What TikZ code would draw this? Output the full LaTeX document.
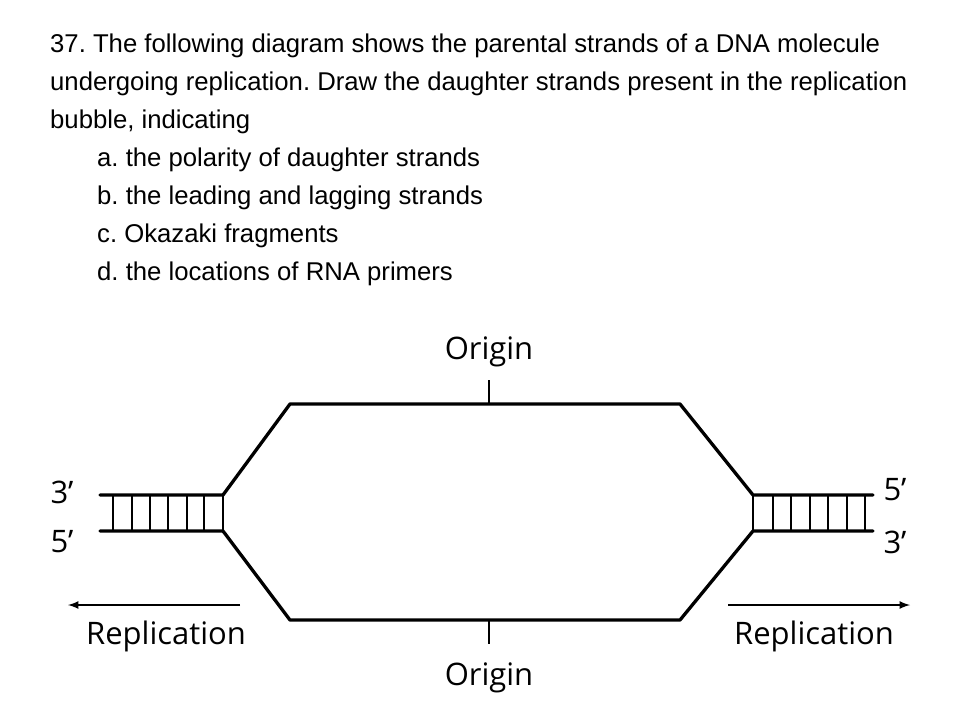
\documentclass[tikz,border=0pt]{standalone}
\usepackage{fontspec}
\setmainfont{Liberation Sans}
\newfontfamily\labelfont{Open Sans}
\usetikzlibrary{positioning}
\frenchspacing
\tikzset{
  strand/.style={line width=3.3pt, line cap=round, line join=round},
  rung/.style={line width=2.5pt},
  qtext/.style={anchor=base west, inner sep=0pt, font=\fontsize{25.7}{30}\selectfont},
  lbl/.style={inner sep=0pt, font=\labelfont\fontsize{31}{36}\selectfont},
}
\begin{document}
\begin{tikzpicture}[x=1pt, y=-1pt]
  \useasboundingbox (0,0) rectangle (964,724);
  % question text
  \node[qtext] (q1) at (50,52) {37. The following diagram shows the parental strands of a DNA molecule};
  \node[qtext] (q2) at (50,90) {undergoing replication. Draw the daughter strands present in the replication};
  \node[qtext] (q3) at (50,128) {bubble, indicating};
  \node[qtext] (qa) at (97,166) {a. the polarity of daughter strands};
  \node[qtext] (qb) at (97,204) {b. the leading and lagging strands};
  \node[qtext] (qc) at (97,242) {c. Okazaki fragments};
  \node[qtext] (qd) at (97,280) {d. the locations of RNA primers};
  % bubble corners
  \coordinate (lt) at (223,495);
  \coordinate (lb) at (223,531);
  \coordinate (rt) at (753,495);
  \coordinate (rb) at (753,531);
  \draw[strand] (100,495) -- (lt) -- (290,404) -- (680,404) -- (rt) -- (873,495);
  \draw[strand] (100,531) -- (lb) -- (290,620) -- (680,620) -- (rb) -- (873,531);
  % base pairs
  \foreach \x in {113,132,150,168,187,204,223}
    \draw[rung] (\x,495) -- (\x,531);
  \foreach \x in {753,773,791,810,828,847,865}
    \draw[rung] (\x,495) -- (\x,531);
  % ends
  \node[lbl] (l3) at (62,492) {3’};
  \node[lbl] (l5) at (62,542) {5’};
  \node[lbl] (r5) at (895,490) {5’};
  \node[lbl] (r3) at (895,542) {3’};
  % origins
  \node[lbl] (otop) at (489,352) {Origin};
  \node[lbl] (obot) at (489,678) {Origin};
  \draw[rung] (489,380) -- (489,404);
  \draw[rung] (489,620) -- (489,644);
  % replication arrows
  \node[lbl] (repl) at (166,636) {Replication};
  \node[lbl] (repr) at (814,636) {Replication};
  \draw[line width=2.5pt, -latex] (240,605) -- (68,605);
  \draw[line width=2.5pt, -latex] (728,605) -- (910,605);
\end{tikzpicture}
\end{document}
